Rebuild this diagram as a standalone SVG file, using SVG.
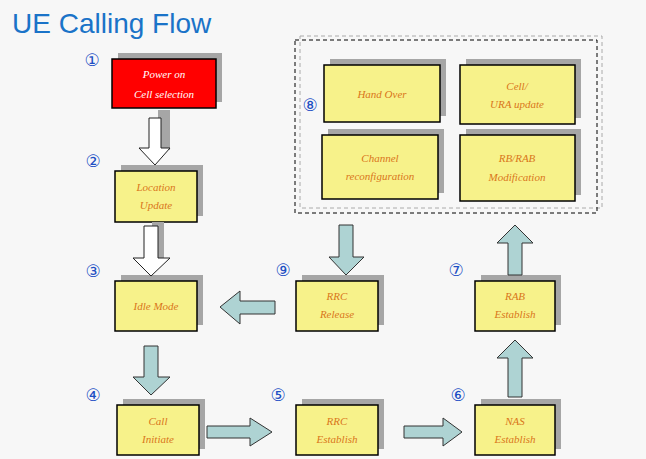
<svg xmlns="http://www.w3.org/2000/svg" width="646" height="459" viewBox="0 0 646 459">
<defs><style>
.sh{fill:#a6a6a6}
.bx{fill:#f7f28a;stroke:#000;stroke-width:1.5}
.t{font-family:"Liberation Serif",serif;font-style:italic;font-size:11px;fill:#d9761a;text-anchor:middle}
.n{font-family:"DejaVu Sans",sans-serif;font-size:17px;fill:#1d4fc4;text-anchor:middle}
.ta{fill:#aed3d3;stroke:#333;stroke-width:1}
.wa{fill:#fff;stroke:#222;stroke-width:1}
.as{fill:#a6a6a6}
</style></defs>
<rect width="646" height="459" fill="#f7f7f7"/>
<text x="12" y="33" font-family="Liberation Sans,sans-serif" font-size="28" fill="#1a73c8">UE Calling Flow</text>
<g id="group8">
<rect x="300" y="36" width="302" height="172" fill="none" stroke="#aaa" stroke-dasharray="4,3"/>
<rect x="295" y="40" width="302" height="173" fill="none" stroke="#000" stroke-dasharray="4,3"/>
<text class="n" x="310" y="111">⑧</text>
</g>
<g id="handover"><rect class="sh" x="330" y="59" width="116" height="57"/><rect class="bx" x="324" y="65" width="116" height="57"/><text class="t" x="382" y="98">Hand Over</text></g>
<g id="cellura"><rect class="sh" x="466" y="59" width="115" height="59"/><rect class="bx" x="460" y="65" width="115" height="59"/><text class="t" x="517" y="90">Cell/</text><text class="t" x="517" y="108">URA update</text></g>
<g id="channel"><rect class="sh" x="328" y="129" width="116" height="64"/><rect class="bx" x="322" y="135" width="116" height="64"/><text class="t" x="380" y="162">Channel</text><text class="t" x="380" y="180">reconfiguration</text></g>
<g id="rbrab"><rect class="sh" x="466" y="129" width="115" height="66"/><rect class="bx" x="460" y="135" width="115" height="66"/><text class="t" x="517" y="162">RB/RAB</text><text class="t" x="517" y="181">Modification</text></g>
<g id="n1"><text class="n" x="92" y="66">①</text><rect class="sh" x="118" y="53" width="104" height="49"/><rect x="112" y="59" width="104" height="49" fill="#f00" stroke="#000" stroke-width="1.5"/><text class="t" x="164" y="78" fill="#fff" style="fill:#fff">Power on</text><text class="t" x="164" y="98" style="fill:#fff">Cell selection</text></g>
<g id="n2"><text class="n" x="93" y="167">②</text><rect class="sh" x="121" y="165" width="82" height="51"/><rect class="bx" x="115" y="171" width="82" height="51"/><text class="t" x="156" y="191">Location</text><text class="t" x="156" y="209">Update</text></g>
<g id="n3"><text class="n" x="93" y="277">③</text><rect class="sh" x="121" y="275" width="82" height="50"/><rect class="bx" x="115" y="281" width="82" height="50"/><text class="t" x="156" y="310">Idle Mode</text></g>
<g id="n4"><text class="n" x="93" y="401">④</text><rect class="sh" x="123" y="399" width="82" height="50"/><rect class="bx" x="117" y="405" width="82" height="50"/><text class="t" x="158" y="425">Call</text><text class="t" x="158" y="443">Initiate</text></g>
<g id="n5"><text class="n" x="278" y="401">⑤</text><rect class="sh" x="302" y="399" width="82" height="50"/><rect class="bx" x="296" y="405" width="82" height="50"/><text class="t" x="337" y="425">RRC</text><text class="t" x="337" y="443">Establish</text></g>
<g id="n6"><text class="n" x="458" y="401">⑥</text><rect class="sh" x="481" y="399" width="80" height="50"/><rect class="bx" x="475" y="405" width="80" height="50"/><text class="t" x="515" y="425">NAS</text><text class="t" x="515" y="443">Establish</text></g>
<g id="n7"><text class="n" x="456" y="276">⑦</text><rect class="sh" x="481" y="275" width="80" height="50"/><rect class="bx" x="475" y="281" width="80" height="50"/><text class="t" x="515" y="300">RAB</text><text class="t" x="515" y="318">Establish</text></g>
<g id="n9"><text class="n" x="283" y="276">⑨</text><rect class="sh" x="302" y="275" width="82" height="50"/><rect class="bx" x="296" y="281" width="82" height="50"/><text class="t" x="337" y="300">RRC</text><text class="t" x="337" y="318">Release</text></g>
<g id="connectors">
<rect class="as" x="158" y="110" width="12" height="40"/>
<path class="wa" d="M149,118 H161 V148 H170 L155,165 L139,148 H149 Z"/>
<rect class="as" x="152" y="222" width="12" height="40"/>
<path class="wa" d="M144,226 H158 V258 H170 L151,276 L133,258 H144 Z"/>
<path class="ta" d="M144,346 H158 V377 H170 L151,395 L133,377 H144 Z"/>
<path class="ta" d="M207,426 H250 V418 L272,432 L250,446 V438 H207 Z"/>
<path class="ta" d="M404,426 H443 V418 L462,432 L443,446 V438 H404 Z"/>
<path class="ta" d="M508,397 H522 V358 H533 L515,340 L497,358 H508 Z"/>
<path class="ta" d="M508,275 H522 V243 H533 L515,225 L497,243 H508 Z"/>
<path class="ta" d="M275,301 H240 V291 L220,307 L240,324 V314 H275 Z"/>
<path class="ta" d="M339,225 H353 V257 H364 L346,275 L329,257 H339 Z"/>
</g>
</svg>
